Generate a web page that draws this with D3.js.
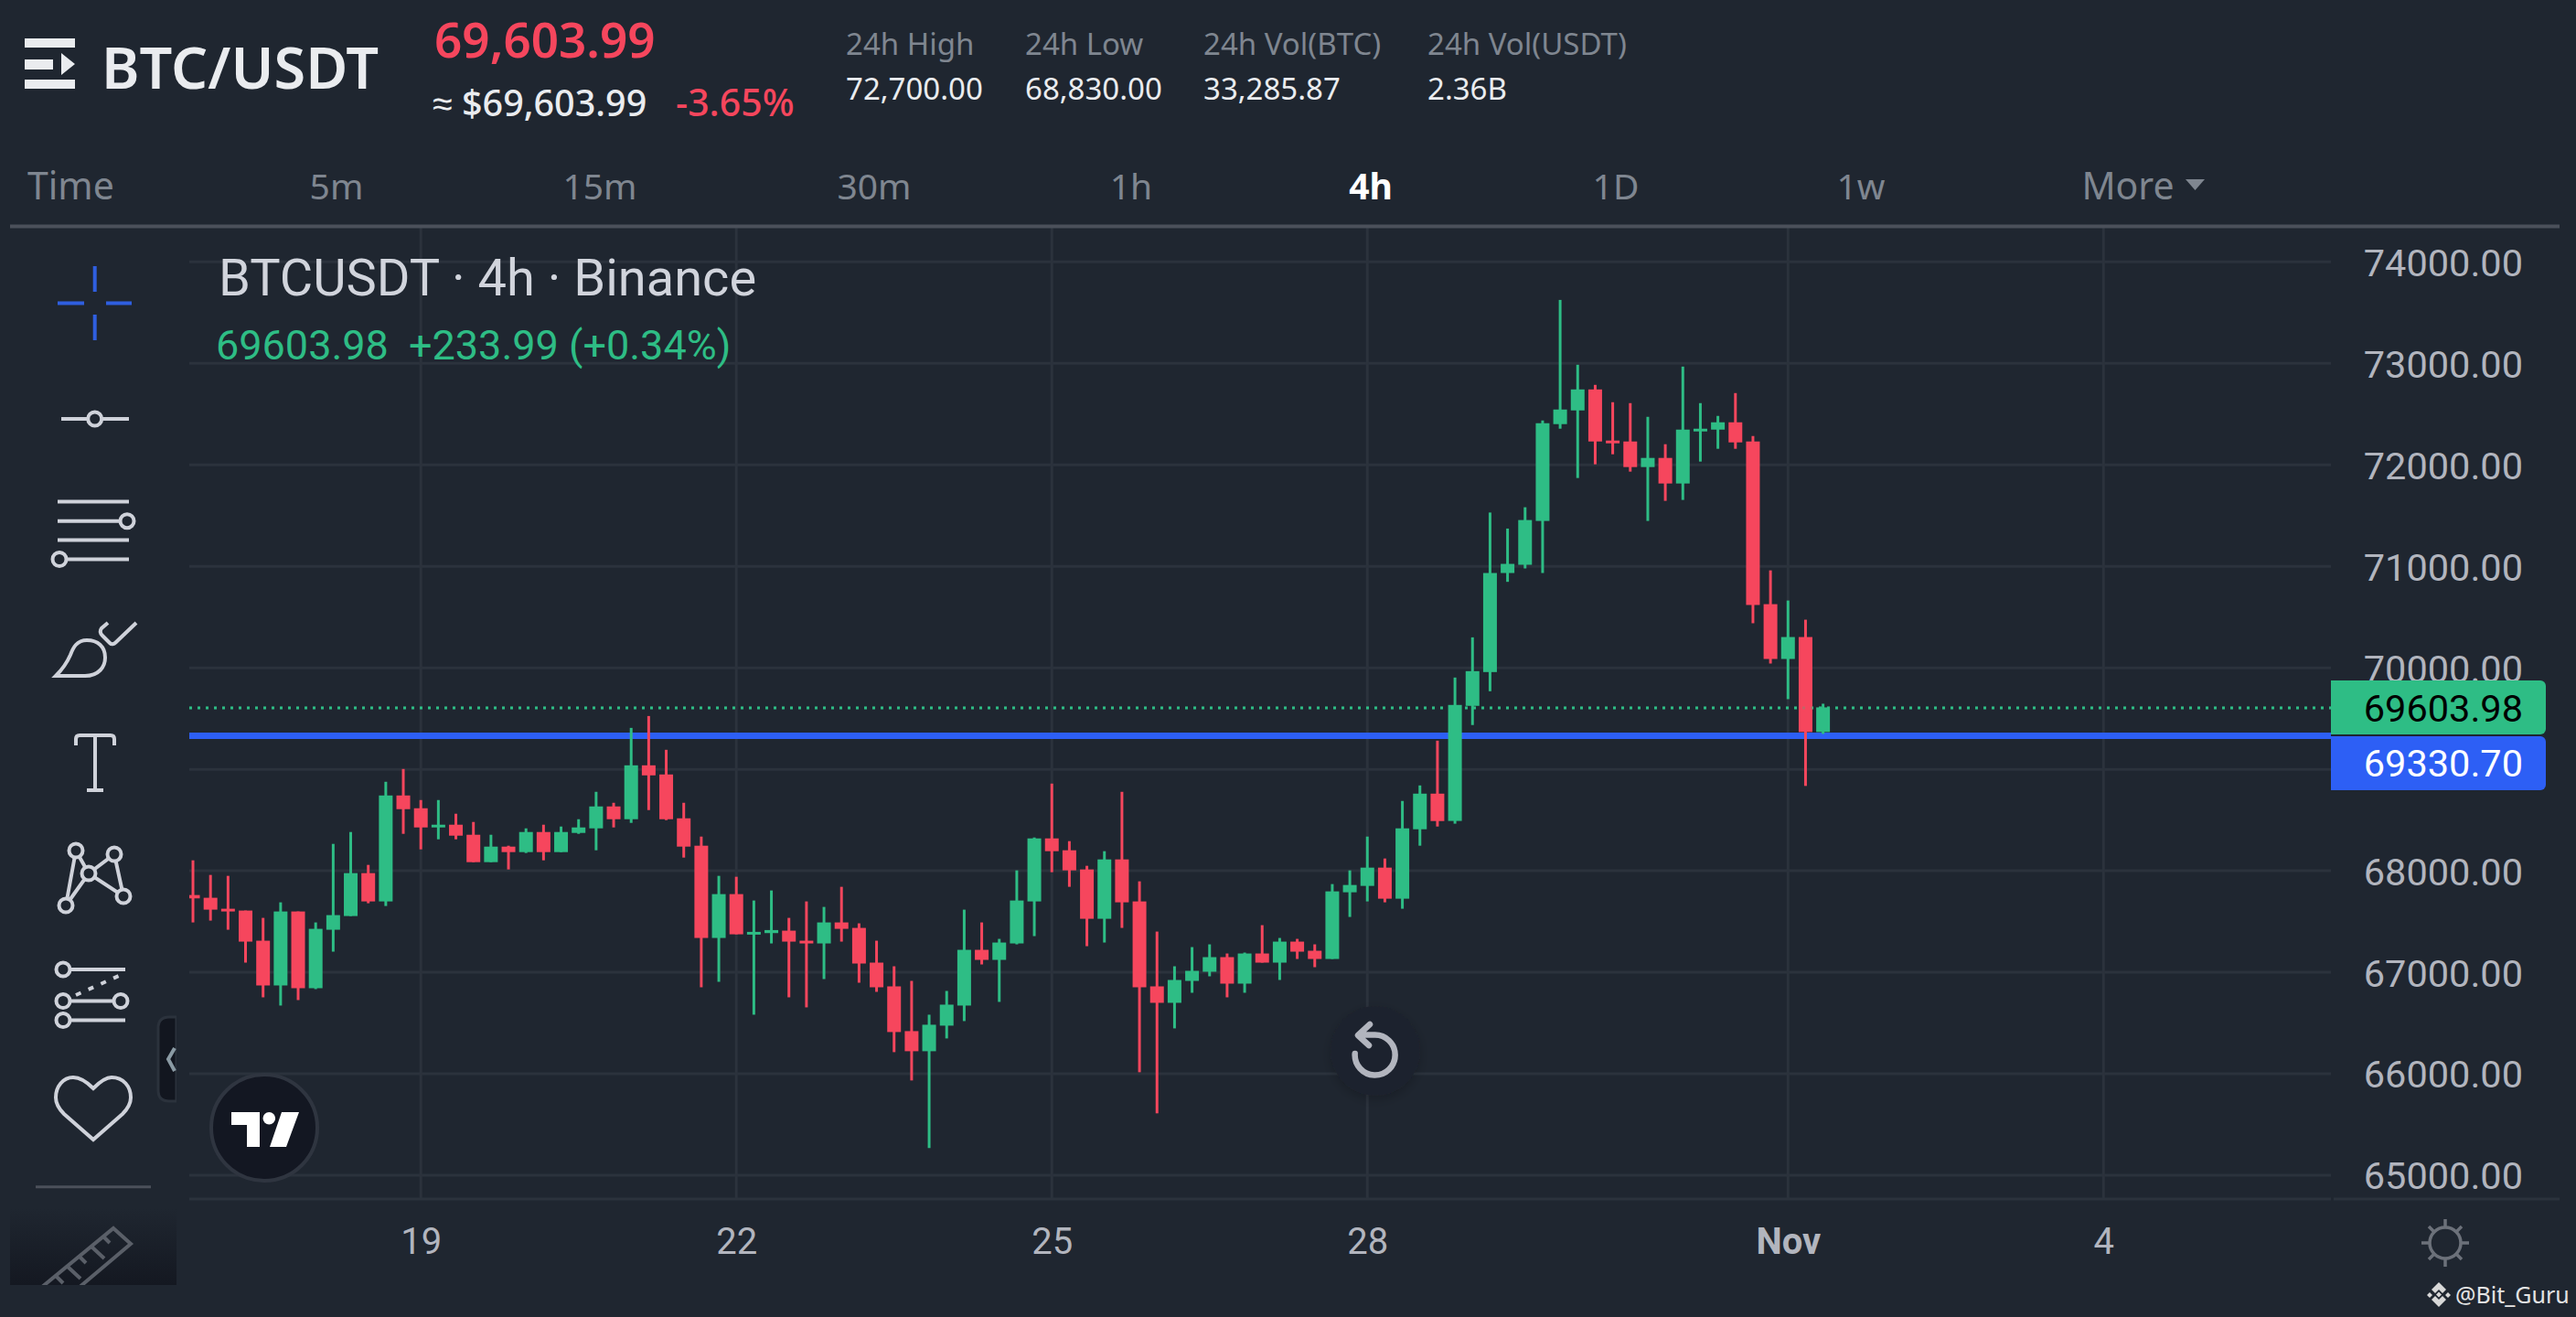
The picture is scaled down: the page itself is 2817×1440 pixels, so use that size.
<!DOCTYPE html>
<html lang="en">
<head>
  <meta charset="UTF-8">
  <title>BTC/USDT 4h</title>
  <script src="https://d3js.org/d3.v7.min.js"></script>
  <style>
    html, body { margin: 0; padding: 0; background: #1f2630; overflow: hidden; }
    svg { display: block; }
    text { font-family: Roboto, sans-serif; }
    .plex { font-family: "Noto Sans", sans-serif; }
    .icon { fill: none; stroke: #cfd2da; stroke-width: 4; }
  </style>
</head>
<body>
  <svg id="chart" width="2817" height="1440"></svg>
  <script>
    // Candles, oldest first, one per 4 hours.
    const opens = [
      67761,67734,67626,67608,67311,66870,67599,66843,67419,67554,
      67977,67698,68742,68616,68427,68454,68355,68085,68238,68184,
      68382,68184,68373,68418,68634,68508,69039,68949,68517,68247,
      67338,67770,67380,67386,67410,67311,67284,67491,67437,67095,
      66861,66420,66222,66474,66672,67221,67122,67284,67698,68319,
      68202,68013,67527,68112,67698,66861,66699,66915,67005,67149,
      66888,67185,67095,67302,67212,67131,67788,67851,68031,67725,
      68409,68760,68491,69625,69958,70934,71015,71447,72401,72536,
      72743,72239,72230,71978,72068,71816,72338,72347,72419,72230,
      70627,70087,70303,69367];
    const highs = [
      68103,67959,67950,67608,67536,67689,67599,67491,68265,68382,
      68058,68877,69003,68697,68697,68562,68481,68355,68247,68418,
      68454,68436,68508,68778,68670,69408,69525,69192,68670,68337,
      67950,67941,67707,67806,67536,67698,67644,67842,67482,67311,
      67059,66915,66582,66816,67617,67491,67329,68004,68328,68859,
      68292,68049,68193,68778,67896,67401,67059,67248,67275,67185,
      67194,67464,67338,67329,67275,67869,68004,68337,68121,68688,
      68841,69282,69904,70300,71530,71372,71582,72437,73625,72986,
      72788,72617,72608,72473,72203,72968,72608,72482,72707,72284,
      70960,70663,70474,69646];
    const lows = [
      67491,67509,67419,67095,66753,66672,66726,66834,67203,67554,
      67680,67653,68364,68211,68310,68310,68085,68085,68013,68175,
      68103,68184,68364,68202,68427,68472,68598,68499,68130,66852,
      66906,67374,66582,67284,66753,66654,66933,67302,66897,66807,
      66213,65934,65268,66348,66519,67077,66708,67275,67356,67986,
      67842,67257,67293,67437,66015,65610,66447,66798,66960,66753,
      66798,67095,66924,67131,67050,67131,67545,67698,67689,67626,
      68247,68436,68464,69436,69769,70847,70979,70934,72356,71870,
      72005,72104,71933,71447,71645,71654,72032,72158,72158,70439,
      70042,69691,68836,69349];
    const closes = [
      67728,67617,67599,67302,66870,67599,66843,67428,67563,67977,
      67698,68742,68607,68427,68454,68346,68085,68238,68184,68382,
      68184,68382,68427,68634,68508,69039,68940,68508,68238,67338,
      67770,67374,67398,67416,67302,67287,67491,67428,67086,66852,
      66411,66222,66483,66681,67221,67122,67293,67707,68319,68193,
      68004,67527,68112,67689,66852,66699,66924,67014,67149,66888,
      67185,67095,67302,67203,67131,67797,67860,68031,67725,68418,
      68760,68490,69634,69967,70934,71024,71456,72410,72545,72743,
      72230,72221,71978,72068,71816,72347,72356,72419,72221,70619,
      70087,70303,69367,69610];

    const priceTicks = [74000, 73000, 72000, 71000, 70000, 69000, 68000, 67000, 66000, 65000];
    const priceLabels = [74000, 73000, 72000, 71000, 70000, 68000, 67000, 66000, 65000];
    const dateIndex = [13, 31, 49, 67, 91, 109];
    const dateLabels = ["19", "22", "25", "28", "Nov", "4"];
    const lastPrice = 69603.98;
    const drawnLine = 69330.70;
    const intervals = ["5m", "15m", "30m", "1h", "4h", "1D", "1w"];

    const green = "#2ebd85", red = "#f6465d", blue = "#2d5ff5", gridColor = "#2b323c";

    const svg = d3.select("#chart");
    svg.append("rect").attr("width", 2817).attr("height", 1440).attr("fill", "#1f2630");

    const plot = {left: 207, right: 2549, top: 249, bottom: 1311};
    const x = d3.scaleLinear().domain([13, 109]).range([460.2, 2300.3]);
    const y = d3.scaleLinear().domain([74000, 65000]).range([286.3, 1285]);

    const defs = svg.append("defs");
    defs.append("clipPath").attr("id", "plotClip").append("rect")
      .attr("x", plot.left).attr("y", plot.top)
      .attr("width", plot.right - plot.left).attr("height", plot.bottom - plot.top);
    const fade = defs.append("linearGradient").attr("id", "fade")
      .attr("x1", 0).attr("y1", 0).attr("x2", 0).attr("y2", 1);
    fade.append("stop").attr("offset", 0).attr("stop-color", "#1f2630");
    fade.append("stop").attr("offset", 1).attr("stop-color", "#141821");
    defs.append("clipPath").attr("id", "rulerClip").append("rect")
      .attr("x", 11).attr("y", 1322).attr("width", 182).attr("height", 83);
    const shadow = defs.append("filter").attr("id", "shadow")
      .attr("x", "-30%").attr("y", "-30%").attr("width", "160%").attr("height", "160%");
    shadow.append("feDropShadow").attr("dx", 0).attr("dy", 4).attr("stdDeviation", 6)
      .attr("flood-color", "#000").attr("flood-opacity", 0.2);

    // Grid
    const grid = svg.append("g");
    grid.selectAll("line.h").data(priceTicks).join("line")
      .attr("class", "h")
      .attr("x1", plot.left).attr("x2", plot.right)
      .attr("y1", d => y(d)).attr("y2", d => y(d))
      .attr("stroke", gridColor).attr("stroke-width", 3);
    grid.selectAll("line.v").data(dateIndex).join("line")
      .attr("class", "v")
      .attr("x1", d => x(d)).attr("x2", d => x(d))
      .attr("y1", plot.top).attr("y2", plot.bottom)
      .attr("stroke", gridColor).attr("stroke-width", 3);
    grid.append("line").attr("x1", plot.left).attr("x2", plot.right)
      .attr("y1", plot.bottom).attr("y2", plot.bottom)
      .attr("stroke", gridColor).attr("stroke-width", 3);
    grid.append("line").attr("x1", 2552).attr("x2", 2799)
      .attr("y1", plot.bottom).attr("y2", plot.bottom)
      .attr("stroke", gridColor).attr("stroke-width", 3);

    const marks = svg.append("g").attr("clip-path", "url(#plotClip)");

    const priceLine = (cls, color, width, dash, opacity) => marks.append("line")
      .attr("class", cls)
      .attr("x1", plot.left).attr("x2", plot.right)
      .attr("stroke", color).attr("stroke-width", width)
      .attr("stroke-dasharray", dash).attr("opacity", opacity);

    priceLine("last", green, 3, "3 6", 1).attr("y1", y(lastPrice)).attr("y2", y(lastPrice));
    priceLine("drawn", blue, 7, null, 1).attr("y1", y(drawnLine)).attr("y2", y(drawnLine));

    // Candles
    const candles = d3.range(opens.length);
    const candleColor = i => closes[i] >= opens[i] ? green : red;
    marks.selectAll("line.wick").data(candles).join("line")
      .attr("class", "wick")
      .attr("x1", i => x(i)).attr("x2", i => x(i))
      .attr("y1", i => y(highs[i])).attr("y2", i => y(lows[i]))
      .attr("stroke", candleColor).attr("stroke-width", 3);
    marks.selectAll("rect.body").data(candles).join("rect")
      .attr("class", "body")
      .attr("x", i => x(i) - 7.5).attr("width", 15)
      .attr("y", i => y(Math.max(opens[i], closes[i])))
      .attr("height", i => Math.max(3, Math.abs(y(opens[i]) - y(closes[i]))))
      .attr("fill", candleColor);
    priceLine("lastOver", green, 3, "3 6", 0.25).attr("y1", y(lastPrice)).attr("y2", y(lastPrice));

    // Axes
    const yAxis = d3.axisLeft(y).tickValues(priceLabels).tickSize(0).tickPadding(0)
      .tickFormat(d => d.toFixed(2));
    const yAxisG = svg.append("g").attr("transform", "translate(2759,0)").call(yAxis);
    yAxisG.select(".domain").remove();
    yAxisG.selectAll("text").attr("font-size", 41.5).attr("fill", "#b2b5be")
      .attr("font-family", "Roboto").attr("dy", "0.36em");

    const xAxis = d3.axisBottom(x).tickValues(dateIndex).tickSize(0).tickPadding(0)
      .tickFormat((d, i) => dateLabels[i]);
    const xAxisG = svg.append("g").attr("transform", "translate(0,1343)").call(xAxis);
    xAxisG.select(".domain").remove();
    xAxisG.selectAll("text").attr("font-size", 40).attr("fill", "#b2b5be")
      .attr("font-family", "Roboto")
      .attr("font-weight", (d, i) => dateLabels[i] === "Nov" ? 700 : 400);

    // Price tags
    const tags = [
      {v: lastPrice, top: 744, fill: green, color: "#000", rx: 6},
      {v: drawnLine, top: 805, fill: blue, color: "#fff", rx: 6}
    ];
    tags.forEach(t => {
      svg.append("path")
        .attr("d", `M2549 ${t.top}H2778a6 6 0 0 1 6 6V${t.top + 53}a6 6 0 0 1 -6 6H2549Z`)
        .attr("fill", t.fill);
      svg.append("text").attr("x", 2759).attr("y", y(t.v) + 14.5 + (t.v === drawnLine ? 30 : 0))
        .attr("text-anchor", "end").attr("font-size", 41.5).attr("fill", t.color)
        .text(t.v.toFixed(2));
    });

    // Header text
    const label = (s, px, py, size, color, opts = {}) => svg.append("text")
      .attr("x", px).attr("y", py).attr("font-size", size).attr("fill", color)
      .attr("font-weight", opts.weight || 400)
      .attr("text-anchor", opts.anchor || "start")
      .attr("class", opts.plex === false ? null : "plex")
      .text(s);

    const headGrey = "#7f8690", headWhite = "#eaecef";
    label("BTC/USDT", 111, 97, 63, headWhite, {weight: 600});
    label("69,603.99", 475, 63, 53, red, {weight: 600});
    label("≈ $69,603.99", 473, 127, 39.5, headWhite, {weight: 500});
    label("-3.65%", 739, 127, 41, red, {weight: 500});
    [
      ["24h High", "72,700.00", 925],
      ["24h Low", "68,830.00", 1121],
      ["24h Vol(BTC)", "33,285.87", 1316],
      ["24h Vol(USDT)", "2.36B", 1561]
    ].forEach(([name, val, px]) => {
      label(name, px, 60, 33, headGrey);
      label(val, px, 109, 33, headWhite);
    });

    label("Time", 30, 218, 41, headGrey);
    const intervalCenters = [368, 656, 956, 1237, 1499, 1767, 2035];
    intervals.forEach((d, i) => label(d, intervalCenters[i], 218, 39, d === "4h" ? "#fff" : headGrey,
      {anchor: "middle", weight: d === "4h" ? 700 : 400}));
    label("More", 2327, 218, 41, headGrey, {anchor: "middle"});
    svg.append("path").attr("d", "M2390 196H2411L2400.5 208Z").attr("fill", headGrey);
    svg.append("line").attr("x1", 11).attr("x2", 2799).attr("y1", 247.5).attr("y2", 247.5)
      .attr("stroke", "#4b505a").attr("stroke-width", 4);

    label("BTCUSDT · 4h · Binance", 239, 323, 56, "#d1d4dc", {plex: false});
    label("69603.98", 236, 393, 45, green, {plex: false});
    label("+233.99 (+0.34%)", 447, 393, 45, green, {plex: false});

    // Logo
    svg.append("path").attr("fill", headWhite)
      .attr("d", "M27 42H82V52H27ZM27 65H58V76H27ZM67 58L82 70L67 82ZM27 87H82V97H27Z");

    // Left toolbar icons
    const icons = svg.append("g").attr("class", "icon");
    const path = (d, extra) => {
      const p = icons.append("path").attr("d", d);
      if (extra) Object.entries(extra).forEach(([k, v]) => p.attr(k, v));
      return p;
    };
    const ring = (cx, cy) => icons.append("circle").attr("cx", cx).attr("cy", cy).attr("r", 7.5)
      .attr("fill", "#1f2630");

    path("M63 331.5H92M116 331.5H144M103.7 291V319M103.7 344V372", {stroke: "#2f5fe0", "stroke-width": 4});
    path("M67 458H141"); ring(103.7, 458);
    path("M63 548.6H141M63 569.7H134M63 590.4H141M70 611.5H141"); ring(139, 569.7); ring(65, 611.5);
    path("M61 739L93 739C108 739 115 729 115 719C115 707 107 700 95 700C84 700 80 708 77 716C74 723 68 732 61 739Z");
    path("M118 681L111 687Q108 691 112 695L120 703Q123 706 127 702L149 681");
    path("M83 815V808Q83 804 87 804H121Q125 804 125 808V815M104 804V864M95 864H113");
    path("M83 930L72 990M83 930L97 955L125 934L135 980L97 955L72 990");
    ring(83, 930); ring(125, 934); ring(97, 955); ring(135, 980); ring(72, 990);
    path("M69 1060H137M69 1094.5H132M69 1115.5H137");
    path("M83 1088L131 1066.5", {"stroke-dasharray": "6 9"});
    ring(69, 1060); ring(69, 1094.5); ring(132, 1094.5); ring(69, 1115.5);
    path("M102 1190C95 1183 88 1178 80 1178C69 1178 61 1188 61 1200C61 1207 65 1213 70 1218L102 1246L134 1218C139 1213 143 1207 143 1200C143 1188 135 1178 122 1178C116 1178 109 1183 102 1190Z");
    svg.append("line").attr("x1", 39).attr("x2", 165).attr("y1", 1297.7).attr("y2", 1297.7)
      .attr("stroke", "#4b505a").attr("stroke-width", 3);

    // Ruler, fading out at the bottom
    svg.append("rect").attr("x", 11).attr("y", 1322).attr("width", 182).attr("height", 83)
      .attr("fill", "url(#fade)");
    svg.append("g").attr("clip-path", "url(#rulerClip)").append("path")
      .attr("fill", "none").attr("stroke", "#5a5f68").attr("stroke-width", 4)
      .attr("d", "M124 1343L143 1360L60 1430L40 1412ZM113 1352L120 1359M100 1363L114 1376M87 1374L94 1381M74 1385L88 1398M62 1396L69 1403");

    // Collapse tab
    svg.append("path").attr("d", "M193 1112H185Q173 1112 173 1124V1192Q173 1204 185 1204H193Z")
      .attr("fill", "#12161f").attr("stroke", "#2b323c").attr("stroke-width", 3);
    svg.append("rect").attr("x", 193).attr("y", 1108).attr("width", 3).attr("height", 100).attr("fill", "#1f2630");
    svg.append("path").attr("d", "M191 1146L184 1158L191 1171").attr("fill", "none")
      .attr("stroke", "#8a9aa3").attr("stroke-width", 4);

    // TradingView badge
    svg.append("circle").attr("cx", 289).attr("cy", 1233).attr("r", 58)
      .attr("fill", "#131722").attr("stroke", "#2f3540").attr("stroke-width", 4);
    svg.append("path").attr("fill", "#fff")
      .attr("d", "M253 1216H284V1254H270V1230H253ZM308 1216H327L313 1254H295Z");
    svg.append("circle").attr("cx", 294.3).attr("cy", 1222.7).attr("r", 6.8).attr("fill", "#fff");

    // Reset button
    svg.append("circle").attr("cx", 1504).attr("cy", 1149).attr("r", 49)
      .attr("fill", "#1e232d").attr("filter", "url(#shadow)");
    svg.append("path").attr("fill", "none").attr("stroke", "#b2b5be").attr("stroke-width", 6.5)
      .attr("stroke-linecap", "round").attr("stroke-linejoin", "round")
      .attr("d", "M1481.7 1152A22 22 0 1 0 1503 1131.5L1486 1131.5M1498 1120L1485 1132L1497 1143");

    // Sun icon
    svg.append("circle").attr("cx", 2674).attr("cy", 1359).attr("r", 17)
      .attr("fill", "none").attr("stroke", "#6c717a").attr("stroke-width", 3.5);
    svg.append("path").attr("stroke", "#6c717a").attr("stroke-width", 3.5).attr("fill", "none")
      .attr("d", "M2674 1333V1342M2674 1376V1385M2648 1359H2657M2691 1359H2700M2656 1341L2662 1347M2686 1371L2692 1377M2692 1341L2686 1347M2662 1371L2656 1377");

    // Watermark
    svg.append("path").attr("fill", "#d8d8d8")
      .attr("d", "M2667 1402L2675 1410L2671 1414L2667 1410L2663 1414L2659 1410ZM2667 1412.5L2670 1415.5L2667 1418.5L2664 1415.5ZM2654 1416L2657 1413L2660 1416L2657 1419ZM2674 1416L2677 1413L2680 1416L2677 1419ZM2659 1421L2663 1417L2667 1421L2671 1417L2675 1421L2667 1429Z");
    label("@Bit_Guru", 2685, 1425, 25, "#e4e4e4");
  </script>
</body>
</html>
